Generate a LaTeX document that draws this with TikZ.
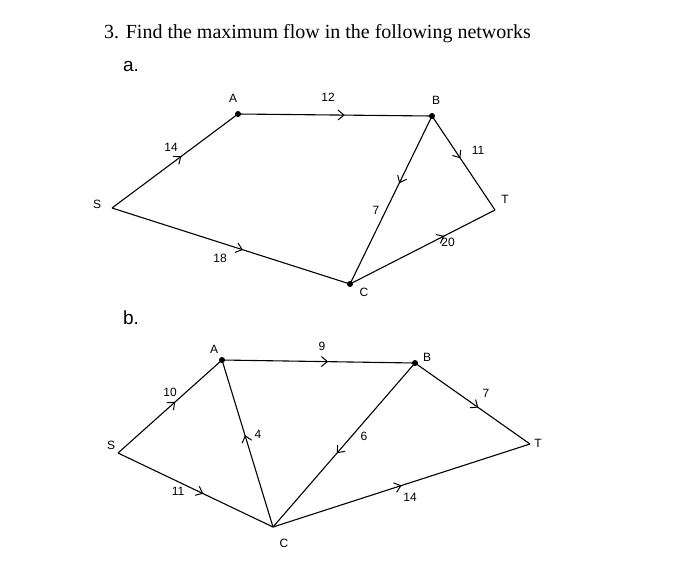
\documentclass[tikz,border=0pt]{standalone}
\usepackage{fontspec}
\setmainfont{Liberation Serif}
\newfontfamily\lab{Liberation Sans}
\usetikzlibrary{decorations.markings,arrows.meta}
\tikzset{
 edge/.style={line width=1.1pt,postaction={decorate},decoration={markings,mark=at position #1 with {\arrow{Straight Barb[length=6pt,width=10pt,line width=1pt]}}}},
 edge/.default=0.55,
 vert/.style={circle,inner sep=0pt,minimum size=0pt},
 dotv/.style={circle,fill,inner sep=0pt,minimum size=6pt},
 lbl/.style={font=\lab\fontsize{12}{14}\selectfont}
}
\begin{document}
\begin{tikzpicture}[x=1pt,y=-1pt]
\useasboundingbox (0,0) rectangle (700,560);
\node[anchor=west,font=\fontsize{20}{24}\selectfont,inner sep=0pt] (title) at (104,34) {3. Find the maximum flow in the following networks};
\node[font=\lab\fontsize{19}{22}\selectfont] (la) at (131,66) {a.};
\node[font=\lab\fontsize{19}{22}\selectfont] (lb) at (131,318) {b.};
% network a
\node[vert] (S) at (112,208) {};
\node[dotv] (A) at (238,114) {};
\node[dotv] (B) at (432,116) {};
\node[vert] (T) at (495,210) {};
\node[dotv] (C) at (350,284) {};
\draw[edge] (S.center) -- (A.center);
\draw[edge] (A.center) -- (B.center);
\draw[edge=0.45] (B.center) -- (T.center);
\draw[edge=0.4] (B.center) -- (C.center);
\draw[edge=0.65] (C.center) -- (T.center);
\draw[edge] (S.center) -- (C.center);
\node[lbl] at (97,204) {S};
\node[lbl] at (233,98) {A};
\node[lbl] at (436,100) {B};
\node[lbl] at (505,199) {T};
\node[lbl] at (364,292) {C};
\node[lbl] at (171,147) {14};
\node[lbl] at (328,97) {12};
\node[lbl] at (478,150) {11};
\node[lbl] at (376,210) {7};
\node[lbl] at (448,242) {20};
\node[lbl] at (220,258) {18};
% network b
\node[vert] (S2) at (118,453) {};
\node[dotv] (A2) at (222,360) {};
\node[dotv] (B2) at (415,363) {};
\node[vert] (T2) at (530,444) {};
\node[vert] (C2) at (273,527) {};
\draw[edge] (S2.center) -- (A2.center);
\draw[edge] (A2.center) -- (B2.center);
\draw[edge] (B2.center) -- (T2.center);
\draw[edge] (C2.center) -- (A2.center);
\draw[edge] (B2.center) -- (C2.center);
\draw[edge] (S2.center) -- (C2.center);
\draw[edge=0.5] (C2.center) -- (T2.center);
\node[lbl] at (111,445) {S};
\node[lbl] at (214,349) {A};
\node[lbl] at (427,357) {B};
\node[lbl] at (538,443) {T};
\node[lbl] at (284,543) {C};
\node[lbl] at (170,392) {10};
\node[lbl] at (322,346) {9};
\node[lbl] at (486,393) {7};
\node[lbl] at (258,434) {4};
\node[lbl] at (364,436) {6};
\node[lbl] at (178,491) {11};
\node[lbl] at (410,497) {14};
\end{tikzpicture}
\end{document}
